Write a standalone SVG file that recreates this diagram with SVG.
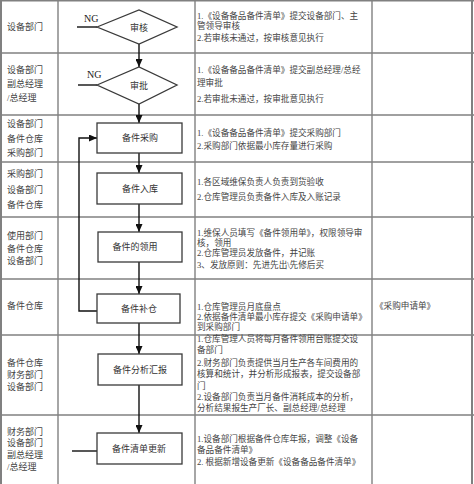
<svg xmlns="http://www.w3.org/2000/svg" width="474" height="484" viewBox="0 0 474 484">
<defs>
<marker id="ah" markerUnits="userSpaceOnUse" markerWidth="8" markerHeight="7" refX="8" refY="3.5" orient="auto">
<path d="M0,0 L8,3.5 L0,7 z" fill="#111"/>
</marker>
<style>
.grid{stroke:#808080;stroke-width:1.4;fill:none}
.node{fill:#fff;stroke:#3a3a3a;stroke-width:1.3}
.con{stroke:#111;stroke-width:1.4;fill:none}
.lbl{font-family:"Liberation Serif","Noto Sans CJK SC",serif;font-size:9px;fill:#333;text-anchor:middle}
.role{font-family:"Liberation Serif","Noto Sans CJK SC",serif;font-size:9px;fill:#444}
.desc{font-family:"Liberation Serif","Noto Sans CJK SC",serif;font-size:8.6px;fill:#444}
.ng{font-family:"Liberation Serif",serif;font-size:10px;fill:#222}
</style>
</defs>
<rect width="474" height="484" fill="#fff"/>
<g id="grid" class="grid">
<line x1="1" y1="0" x2="1" y2="484" stroke-width="2"/>
<line x1="58" y1="0" x2="58" y2="484"/>
<line x1="195" y1="0" x2="195" y2="484"/>
<line x1="372" y1="0" x2="372" y2="484"/>
<line x1="472" y1="0" x2="472" y2="484" stroke-width="2"/>
<line x1="0" y1="0.7" x2="474" y2="0.7"/>
<line x1="0" y1="53" x2="474" y2="53"/>
<line x1="0" y1="115" x2="474" y2="115"/>
<line x1="0" y1="162" x2="474" y2="162"/>
<line x1="0" y1="217" x2="474" y2="217"/>
<line x1="0" y1="279" x2="474" y2="279"/>
<line x1="0" y1="335" x2="474" y2="335"/>
<line x1="0" y1="415" x2="474" y2="415"/>
</g>
<g id="roles" class="role">
<text x="7" y="30">设备部门</text>
<text x="7" y="73">设备部门</text>
<text x="7" y="87">副总经理</text>
<text x="7" y="101">/总经理</text>
<text x="7" y="127">设备部门</text>
<text x="7" y="142">备件仓库</text>
<text x="7" y="156">采购部门</text>
<text x="7" y="177">采购部门</text>
<text x="7" y="193">设备部门</text>
<text x="7" y="208">备件仓库</text>
<text x="7" y="239">使用部门</text>
<text x="7" y="252">备件仓库</text>
<text x="7" y="264">设备部门</text>
<text x="7" y="309">备件仓库</text>
<text x="7" y="366">备件仓库</text>
<text x="7" y="378">财务部门</text>
<text x="7" y="390">设备部门</text>
<text x="7" y="435">财务部门</text>
<text x="7" y="446">设备部门</text>
<text x="7" y="458">副总经理</text>
<text x="7" y="470">/总经理</text>
</g>
<g id="descs" class="desc">
<text x="197" y="19">1.《设备备品备件清单》提交设备部门、主</text>
<text x="197" y="28.5">管领导审核</text>
<text x="197" y="41">2.若审核未通过，按审核意见执行</text>
<text x="197" y="73">1.《设备备品备件清单》提交副总经理/总经</text>
<text x="197" y="86">理审批</text>
<text x="197" y="102">2.若审批未通过，按审批意见执行</text>
<text x="197" y="136">1.《设备备品备件清单》提交采购部门</text>
<text x="197" y="149">2.采购部门依据最小库存量进行采购</text>
<text x="197" y="185">1.各区域维保负责人负责到货验收</text>
<text x="197" y="200">2.仓库管理员负责备件入库及入账记录</text>
<text x="197" y="236">1.维保人员填写《备件领用单》，权限领导审</text>
<text x="197" y="245.5">核，领用</text>
<text x="197" y="256">2.仓库管理员发放备件，并记账</text>
<text x="197" y="268">3、发放原则：先进先出\先修后买</text>
<text x="197" y="310">1.仓库管理员月底盘点</text>
<text x="197" y="319.5">2.依据备件清单最小库存提交《采购申请单》</text>
<text x="197" y="329.5">到采购部门</text>
<text x="197" y="342">1.仓库管理人员将每月备件领用台账提交设</text>
<text x="197" y="353">备部门</text>
<text x="197" y="366">2.财务部门负责提供当月生产各车间费用的</text>
<text x="197" y="377">核算和统计，并分析形成报表，提交设备部</text>
<text x="197" y="389">门</text>
<text x="197" y="400">2.设备部门负责当月备件消耗成本的分析，</text>
<text x="197" y="411">分析结果报生产厂长、副总经理/总经理</text>
<text x="197" y="442">1.设备部门根据备件仓库年报，调整《设备</text>
<text x="197" y="452.5">备品备件清单》</text>
<text x="197" y="465">2.  根据新增设备更新《设备备品备件清单》</text>
<text x="375" y="309">《采购申请单》</text>
</g>
<g id="connectors" class="con">
<line x1="139" y1="44" x2="139" y2="67" marker-end="url(#ah)"/>
<line x1="139" y1="104" x2="139" y2="123" marker-end="url(#ah)"/>
<line x1="139" y1="153" x2="139" y2="173" marker-end="url(#ah)"/>
<line x1="139" y1="204" x2="139" y2="232" marker-end="url(#ah)"/>
<line x1="139" y1="262" x2="139" y2="294" marker-end="url(#ah)"/>
<line x1="139" y1="323" x2="139" y2="354" marker-end="url(#ah)"/>
<line x1="139" y1="385" x2="139" y2="433" marker-end="url(#ah)"/>
<polyline points="97,311 79,311 79,138 97,138" marker-end="url(#ah)"/>
<line x1="77" y1="27" x2="97" y2="27"/>
<line x1="78" y1="85" x2="97" y2="85"/>
<line x1="72" y1="451" x2="97" y2="451"/>
</g>
<g id="n-shenhe">
<polygon class="node" points="97,27 139,10 177,27 139,44"/>
<text class="lbl" x="139" y="31">审核</text>
<text class="ng" x="84" y="22">NG</text>
</g>
<g id="n-shenpi">
<polygon class="node" points="97,85 139,67 177,85 139,104"/>
<text class="lbl" x="139" y="89">审批</text>
<text class="ng" x="87" y="78">NG</text>
</g>
<g id="n-caigou">
<rect class="node" x="97" y="123" width="85" height="30"/>
<text class="lbl" x="140" y="141">备件采购</text>
</g>
<g id="n-ruku">
<rect class="node" x="97" y="173" width="85" height="31"/>
<text class="lbl" x="140" y="192">备件入库</text>
</g>
<g id="n-lingyong">
<rect class="node" x="98" y="232" width="84" height="30"/>
<text class="lbl" x="135" y="250">备件的领用</text>
</g>
<g id="n-bucang">
<rect class="node" x="97" y="294" width="83" height="29"/>
<text class="lbl" x="139" y="312">备件补仓</text>
</g>
<g id="n-fenxi">
<rect class="node" x="98" y="354" width="84" height="31"/>
<text class="lbl" x="140" y="373">备件分析汇报</text>
</g>
<g id="n-gengxin">
<rect class="node" x="97" y="433" width="85" height="31"/>
<text class="lbl" x="139" y="452">备件清单更新</text>
</g>
</svg>
